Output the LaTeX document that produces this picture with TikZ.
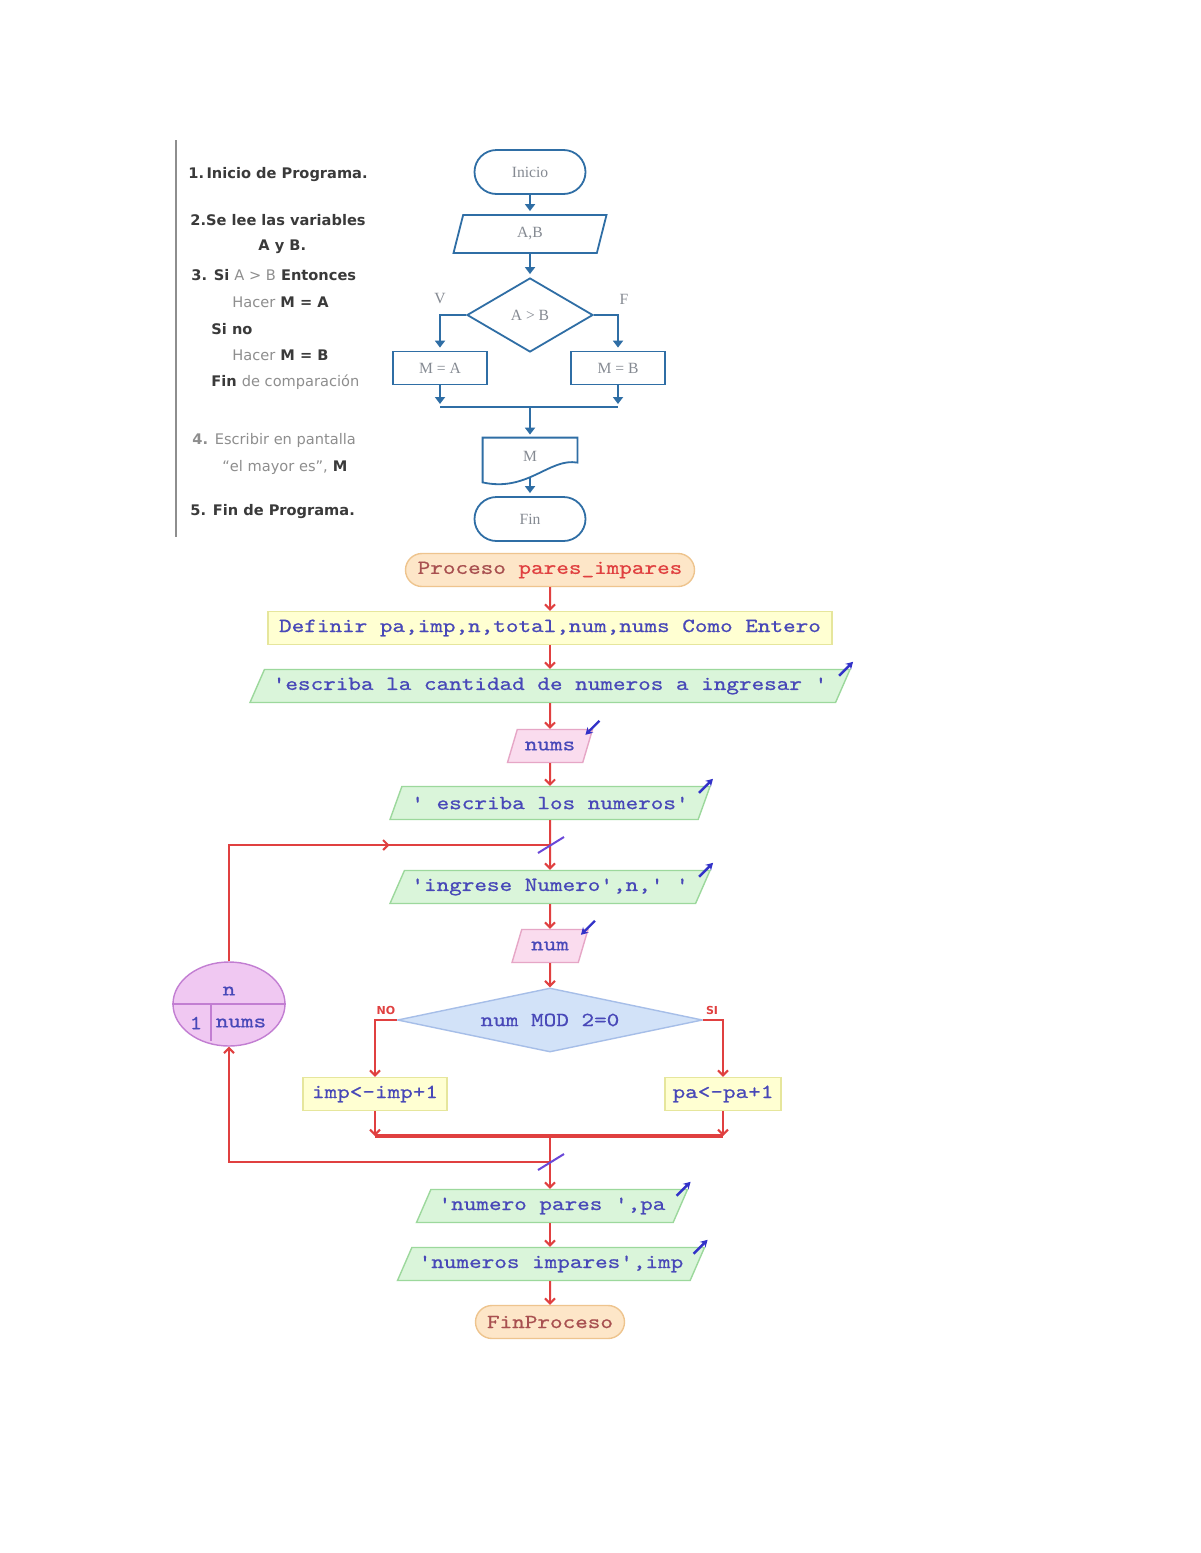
\documentclass[tikz,border=0pt]{standalone}
\usepackage{fontspec}
\setmainfont{DejaVu Sans}
\setmonofont{Latin Modern Mono}[FakeStretch=1.2,FakeBold=0.6]
\newfontfamily\chartfont{Liberation Serif}
\usetikzlibrary{shapes.geometric,shapes.misc,arrows.meta,calc}
\definecolor{chartblue}{HTML}{2F6EA5}
\definecolor{chartgray}{HTML}{858A92}
\definecolor{darktxt}{HTML}{3A3A3A}
\definecolor{litetxt}{HTML}{8E8E8E}
\definecolor{pred}{HTML}{E04040}
\definecolor{ptext}{HTML}{4848B8}
\definecolor{pbrown}{HTML}{A85050}
\definecolor{procfill}{HTML}{FDE6C8}
\definecolor{procline}{HTML}{EEC48E}
\definecolor{yfill}{HTML}{FFFFD2}
\definecolor{yline}{HTML}{E6E69C}
\definecolor{gfill}{HTML}{DAF5DA}
\definecolor{gline}{HTML}{9CD89C}
\definecolor{pkfill}{HTML}{FADCEE}
\definecolor{pkline}{HTML}{E6A6C6}
\definecolor{bfill}{HTML}{D2E2F8}
\definecolor{bline}{HTML}{A6BEE8}
\definecolor{vfill}{HTML}{F0C8F2}
\definecolor{vline}{HTML}{C27ED2}
\definecolor{iconblue}{HTML}{3232C8}
\definecolor{slashc}{HTML}{6A48D8}
\newcommand{\lite}[1]{\textcolor{litetxt}{#1}}
\begin{document}
\begin{tikzpicture}[x=0.5pt,y=-0.5pt,
  chart/.style={draw=chartblue,line width=0.9pt,text=chartgray,font=\chartfont\fontsize{7.8}{9}\selectfont,inner sep=1pt},
  cflow/.style={draw=chartblue,line width=0.9pt,-{Triangle[length=3.5pt,width=5pt]},shorten >=1.5pt},
  ctext/.style={text=chartgray,font=\chartfont\fontsize{7.8}{9}\selectfont},
  steptext/.style={anchor=west,inner sep=0pt,text=darktxt,font=\fontsize{7.3}{9}\selectfont\bfseries},
  psbox/.style={font=\ttfamily\fontsize{10}{12}\selectfont,text=ptext,line width=0.7pt,inner sep=2pt,minimum height=16.5pt},
  procbox/.style={psbox,rounded rectangle,inner xsep=0pt,fill=procfill,draw=procline},
  defbox/.style={psbox,rectangle,fill=yfill,draw=yline},
  outbox/.style={psbox,trapezium,trapezium left angle=60,trapezium right angle=120,trapezium stretches body,fill=gfill,draw=gline},
  inbox/.style={outbox,fill=pkfill,draw=pkline},
  condbox/.style={psbox,diamond,aspect=4.8,inner sep=0pt,fill=bfill,draw=bline},
  pline/.style={draw=pred,line width=1pt},
  pflow/.style={pline,-{Straight Barb[length=2.5pt,width=5pt]}},
  ioarrow/.style={draw=iconblue,line width=1.2pt,-{Stealth[length=3.5pt,width=4pt]}},
  slash/.style={draw=slashc,line width=1pt},
  nolabel/.style={text=pred,inner sep=0pt,font=\fontsize{5.5}{6}\selectfont\bfseries}]
\useasboundingbox (0,0) rectangle (1200,1553);
\fill[white] (0,0) rectangle (1200,1553);

% upper part: steps and flowchart
\draw[litetxt,line width=0.8pt] (176,140) -- (176,537);
\node[steptext] (s1) at (188,175) {1.\,Inicio de Programa.};
\node[steptext] (s2) at (190,220) {2.Se lee las variables};
\node[steptext] (s2b) at (258,247) {A y B.};
\node[steptext] (s3) at (191,275) {3. Si \lite{\mdseries A > B} Entonces};
\node[steptext] (s3a) at (232,302) {\lite{\mdseries Hacer} M = A};
\node[steptext] (s3b) at (211,329) {Si no};
\node[steptext] (s3c) at (232,355) {\lite{\mdseries Hacer} M = B};
\node[steptext] (s3d) at (211,382) {Fin \lite{\mdseries de comparación}};
\node[steptext] (s4) at (192,440) {\lite{4. \mdseries Escribir en pantalla}};
\node[steptext] (s4b) at (222,467) {\lite{\mdseries ``el mayor es'',} M};
\node[steptext] (s5) at (190,512) {5. Fin de Programa.};

\node[chart,rounded rectangle,minimum width=57.5pt,minimum height=22pt] (inicio) at (530,172) {Inicio};
\node[chart,trapezium,trapezium left angle=60,trapezium right angle=120,trapezium stretches body,minimum width=76.5pt,minimum height=19pt] (ab) at (530,234) {A,B};
\node[chart,diamond,aspect=1.7,inner sep=0pt,minimum width=63pt,minimum height=37pt] (cmp) at (530,315) {A > B};
\node[chart,minimum width=47pt,minimum height=16.5pt] (ma) at (440,368) {M = A};
\node[chart,minimum width=47pt,minimum height=16.5pt] (mb) at (618,368) {M = B};
\node[ctext,minimum width=47pt,minimum height=21pt] (mdoc) at (530,459) {};
\node[ctext] (mtxt) at (530,456) {M};
\node[chart,rounded rectangle,minimum width=57.5pt,minimum height=22pt] (fin) at (530,519) {Fin};
\node[ctext] (v) at (440,299) {V};
\node[ctext] (f) at (624,299) {F};
\coordinate (jl) at (440,407);
\coordinate (jr) at (618,407);
\coordinate (jm) at (530,407);
\draw[chart] (mdoc.north west) -- (mdoc.north east) -- ($(mdoc.north east)+(0,25)$)
  .. controls ($(mdoc.north east)+(-28,20)$) and ($(mdoc.south west)+(45,12)$) .. ($(mdoc.south west)+(0,2)$) -- cycle;
\draw[cflow] (inicio) -- (ab);
\draw[cflow] (ab) -- (cmp);
\draw[cflow] (cmp.west) -| (ma.north);
\draw[cflow] (cmp.east) -| (mb.north);
\draw[cflow] (ma.south) -- (jl);
\draw[cflow] (mb.south) -- (jr);
\draw[chart] (jl) -- (jr);
\draw[cflow] (jm) -- (mdoc.north);
\draw[cflow] ($(mdoc.south)+(0,-3)$) -- (fin);

% lower part: PSeInt diagram
\node[procbox,minimum width=144.5pt,text=pbrown] (proc) at (550,570) {Proceso \textcolor{pred}{pares\_impares}};
\node[defbox,minimum width=282pt] (def) at (550,628) {Definir pa,imp,n,total,num,nums Como Entero};
\node[outbox,minimum width=300pt] (out1) at (550,686) {'escriba la cantidad de numeros a ingresar '};
\node[inbox,minimum width=42.5pt] (in1) at (550,746) {nums};
\node[outbox,minimum width=160pt] (out2) at (550,803) {' escriba los numeros'};
\node[outbox,minimum width=160pt] (out3) at (550,887) {'ingrese Numero',n,' '};
\node[inbox,minimum width=38pt] (in2) at (550,946) {num};
\node[condbox,minimum width=152.5pt,minimum height=32pt] (cond) at (550,1020) {num MOD 2=0};
\node[defbox,minimum width=72pt] (imp) at (375,1094) {imp<-imp+1};
\node[defbox,minimum width=58pt] (pa) at (723,1094) {pa<-pa+1};
\node[outbox,minimum width=135.5pt] (out4) at (552,1206) {'numero pares ',pa};
\node[outbox,minimum width=153.5pt] (out5) at (551,1264) {'numeros impares',imp};
\node[procbox,minimum width=74.5pt,text=pbrown] (finp) at (550,1322) {FinProceso};
\node[ellipse,fill=vfill,draw=vline,line width=0.7pt,minimum width=56pt,minimum height=42pt] (para) at (229,1004) {};
\draw[vline,line width=0.7pt] (para.west) -- (para.east);
\draw[vline,line width=0.7pt] (211,1004) -- (211,1041);
\node[psbox,minimum height=0pt,inner sep=0pt] (pn) at (229,991) {n};
\node[psbox,minimum height=0pt,inner sep=0pt] (pi) at (196,1023) {1};
\node[psbox,minimum height=0pt,inner sep=0pt] (pnums) at (241,1023) {nums};
\node[nolabel] (no) at (386,1010) {NO};
\node[nolabel] (si) at (712,1010) {SI};
\coordinate (j1) at (550,845);
\coordinate (j2) at (550,1136);
\coordinate (j3) at (550,1162);

\draw[pflow] (proc) -- (def);
\draw[pflow] (def) -- (out1);
\draw[pflow] (out1) -- (in1);
\draw[pflow] (in1) -- (out2);
\draw[pflow] (out2) -- (out3);
\draw[pflow] (out3) -- (in2);
\draw[pflow] (in2) -- (cond);
\draw[pflow] (cond.west) -| (imp.north);
\draw[pflow] (cond.east) -| (pa.north);
\draw[pflow] (imp.south) -- (imp.south |- j2);
\draw[pflow] (pa.south) -- (pa.south |- j2);
\draw[pline,line width=1.6pt] (imp.south |- j2) -- (pa.south |- j2);
\draw[pline] (j2) -- (j3);
\draw[pflow] (j3) -- (j3 |- out4.north);
\draw[pflow] (out4.south -| j3) -- (out5.north -| j3);
\draw[pflow] (out5.south -| j3) -- (finp);
\draw[pline] (para.north) -- (para.north |- j1) -- (j1);
\draw[pflow] (para.north |- j1) -- ($(para.north |- j1)!0.5!(j1)$);
\draw[pflow] (j3) -| (para.south);
\draw[slash] ($(j1)+(-12,8)$) -- ($(j1)+(14,-8)$);
\draw[slash] ($(j3)+(-12,8)$) -- ($(j3)+(14,-8)$);
\foreach \n in {out1,out2,out3,out4,out5}
  \draw[ioarrow] ([shift={(-12,7)}]\n.top right corner) -- ++(14,-14);
\foreach \n in {in1,in2}
  \draw[ioarrow] ([shift={(6,-8)}]\n.top right corner) -- ++(-14,14);
\end{tikzpicture}
\end{document}
